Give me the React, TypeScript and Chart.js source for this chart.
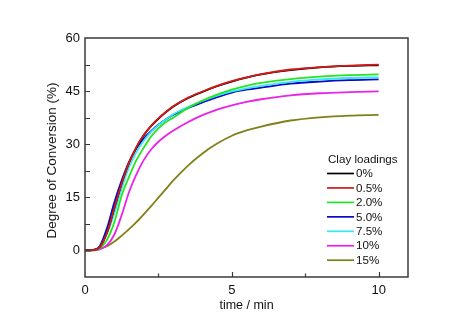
import React, { useEffect, useRef } from "react";
import { Chart, registerables } from "chart.js";

Chart.register(...registerables);

const times = [0, 0.25, 0.5, 0.75, 1, 1.25, 1.5, 1.75, 2, 2.25, 2.5, 2.75, 3, 3.5, 4, 4.5, 5, 5.5, 6, 7, 8, 9, 10];

const loading0 = [0, 0.1, 0.9, 5.0, 11.9, 18.9, 24.7, 29.1, 32.5, 35.1, 37.2, 39.0, 40.6, 43.0, 44.8, 46.4, 47.7, 48.8, 49.7, 50.9, 51.7, 52.1, 52.3];
const loading05 = [0, 0.1, 0.9, 5.0, 12.0, 19.0, 24.8, 29.2, 32.6, 35.2, 37.3, 39.1, 40.7, 43.1, 44.9, 46.5, 47.8, 48.9, 49.8, 51.1, 51.8, 52.2, 52.5];
const loading20 = [0, 0.05, 0.6, 3.0, 8.0, 15.5, 20.8, 25.5, 29.0, 32.2, 34.5, 36.2, 37.5, 40.2, 42.3, 44.0, 45.4, 46.5, 47.3, 48.4, 49.1, 49.5, 49.7];
const loading50 = [0, 0.1, 1.2, 6.3, 13.6, 19.8, 25.0, 28.8, 31.6, 33.7, 35.5, 37.0, 38.3, 40.2, 41.8, 43.3, 44.6, 45.4, 46.0, 47.1, 47.7, 48.1, 48.3];
const loading75 = [0, 0.08, 0.9, 4.8, 10.5, 17.5, 23.5, 27.8, 31.0, 33.5, 35.4, 37.0, 38.4, 40.5, 42.2, 43.7, 44.9, 45.8, 46.5, 47.6, 48.3, 48.7, 48.9];
const loading10 = [0, 0.03, 0.3, 1.5, 4.5, 10.0, 16.5, 21.5, 25.5, 28.5, 30.7, 32.4, 33.8, 36.2, 38.2, 39.8, 41.0, 41.95, 42.7, 43.8, 44.4, 44.7, 44.9];
const loading15 = [0, 0.1, 0.5, 1.2, 2.5, 4.2, 6.0, 8.0, 10.2, 12.5, 14.9, 17.3, 19.7, 23.9, 27.4, 30.2, 32.4, 33.9, 35.0, 36.7, 37.6, 38.1, 38.3];

const seriesLabels = ["0%", "0.5%", "2.0%", "5.0%", "7.5%", "10%", "15%"];
const seriesValues = [loading0, loading05, loading20, loading50, loading75, loading10, loading15];
const seriesColors = ["#000000", "#d41818", "#22e622", "#0808cc", "#38e8f0", "#ea22ea", "#808018"];
// drawing order: black under red
const drawOrder = [1, 0, 2, 4, 3, 5, 6];

const legendTitle = "Clay loadings";
const xTitle = "time / min";
const yTitle = "Degree of Conversion (%)";

const FONT = "'Liberation Sans', Arial, sans-serif";
const AXIS_COLOR = "#3a3a3a";
const TEXT_COLOR = "#111111";

const framePlugin = {
  id: "frameAndTicks",
  afterDatasetsDraw(chart: any) {
    const { ctx, chartArea } = chart;
    const xs = chart.scales.x;
    const ys = chart.scales.y;
    ctx.save();
    ctx.strokeStyle = AXIS_COLOR;
    ctx.lineWidth = 1.5;
    ctx.strokeRect(chartArea.left, chartArea.top, chartArea.right - chartArea.left, chartArea.bottom - chartArea.top);
    ctx.lineWidth = 1.2;
    ctx.beginPath();
    for (const t of ys.ticks) {
      const y = Math.round(ys.getPixelForValue(t.value)) + 0.5;
      if (y <= chartArea.top + 1 || y >= chartArea.bottom - 1) continue;
      ctx.moveTo(chartArea.left, y);
      ctx.lineTo(chartArea.left + 5, y);
    }
    for (const t of xs.ticks) {
      const x = Math.round(xs.getPixelForValue(t.value)) + 0.5;
      if (x <= chartArea.left + 1 || x >= chartArea.right - 1) continue;
      const len = t.value % 5 === 0 ? 5 : 3.5;
      ctx.moveTo(x, chartArea.bottom);
      ctx.lineTo(x, chartArea.bottom - len);
    }
    ctx.stroke();

    // axis titles
    ctx.fillStyle = TEXT_COLOR;
    ctx.textAlign = "center";
    ctx.textBaseline = "middle";
    ctx.font = `12.5px ${FONT}`;
    ctx.fillText(xTitle, (chartArea.left + chartArea.right) / 2, chartArea.bottom + 29);
    ctx.save();
    ctx.translate(chartArea.left - 33, (chartArea.top + chartArea.bottom) / 2 + 3);
    ctx.rotate(-Math.PI / 2);
    ctx.font = `13.5px ${FONT}`;
    ctx.fillText(yTitle, 0, 0);
    ctx.restore();

    // legend
    const lx = 327;
    let ly = 160;
    ctx.font = `11.6px ${FONT}`;
    ctx.fillStyle = TEXT_COLOR;
    ctx.textBaseline = "middle";
    ctx.textAlign = "left";
    ctx.fillText(legendTitle, 328, ly);
    ly += 13.5;
    for (let i = 0; i < seriesLabels.length; i++) {
      ctx.strokeStyle = seriesColors[i];
      ctx.lineWidth = 1.7;
      ctx.beginPath();
      ctx.moveTo(lx, ly);
      ctx.lineTo(lx + 27, ly);
      ctx.stroke();
      ctx.fillStyle = TEXT_COLOR;
      ctx.fillText(seriesLabels[i], lx + 29, ly + 0.5);
      ly += 14.45;
    }
    ctx.restore();
  },
};

export default function App() {
  const ref = useRef<HTMLCanvasElement>(null);
  useEffect(() => {
    if (!ref.current) return;
    const datasets = drawOrder.map((i) => ({
      label: seriesLabels[i],
      data: times.map((t, k) => ({ x: t, y: seriesValues[i][k] })),
      borderColor: seriesColors[i],
      backgroundColor: seriesColors[i],
      borderWidth: 1.8,
      pointRadius: 0,
      fill: false,
      cubicInterpolationMode: "monotone" as const,
    }));
    const chart = new Chart(ref.current, {
      type: "line",
      data: { datasets },
      options: {
        animation: false,
        responsive: false,
        devicePixelRatio: 1,
        layout: { padding: { left: 0, top: 38, right: 66, bottom: 0 } },
        plugins: { legend: { display: false }, tooltip: { enabled: false } },
        scales: {
          x: {
            type: "linear",
            min: 0,
            max: 11,
            grid: { display: false, drawTicks: false },
            border: { display: false },
            ticks: {
              stepSize: 2.5,
              includeBounds: false,
              autoSkip: false,
              maxRotation: 0,
              padding: 6,
              color: TEXT_COLOR,
              font: { family: FONT, size: 13 },
              callback: (v: any) => (Number(v) % 5 === 0 ? String(v) : ""),
            },
            afterFit: (s: any) => {
              s.height = 56;
            },
          },
          y: {
            type: "linear",
            min: -7.5,
            max: 60,
            grid: { display: false, drawTicks: false },
            border: { display: false },
            ticks: {
              stepSize: 7.5,
              autoSkip: false,
              padding: 5,
              color: TEXT_COLOR,
              font: { family: FONT, size: 13 },
              callback: (v: any) => (Number(v) % 15 === 0 ? String(v) : ""),
            },
            afterFit: (s: any) => {
              s.width = 85;
            },
          },
        },
      },
      plugins: [framePlugin],
    });
    return () => chart.destroy();
  }, []);
  return (
    <div style={{ position: "fixed", left: 0, top: 0, width: 474, height: 333, background: "#fff" }}>
      <canvas ref={ref} width={474} height={333} style={{ width: 474, height: 333, display: "block" }} />
    </div>
  );
}
